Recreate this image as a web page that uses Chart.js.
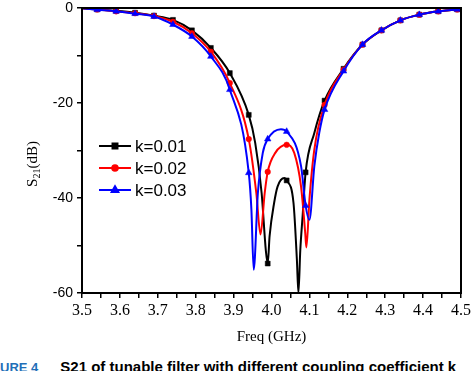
<!DOCTYPE html>
<html>
<head>
<meta charset="utf-8">
<script src="https://cdn.jsdelivr.net/npm/chart.js@4/dist/chart.umd.min.js"></script>
<style>
  html, body { margin: 0; padding: 0; background: #fff; }
  body { width: 474px; height: 371px; overflow: hidden; position: relative; }
  #wrap { position: absolute; left: 0; top: 0; width: 474px; height: 350px; }
  #caption {
    position: absolute; left: 0; top: 359px; white-space: nowrap;
    font: bold 15px "Liberation Sans", Arial, sans-serif; line-height: 15px; color: #000;
  }
  #caption .fig { color: #1f6fb8; font-size: 13px; margin-right: 22px; }
</style>
</head>
<body>
<div id="wrap"><canvas id="chart"></canvas></div>
<div id="caption"><span class="fig">URE 4</span>S21 of tunable filter with different coupling coefficient k</div>
<script>
// Values: frequency in GHz, S21 in dB

const seriesNames = ['k=0.01', 'k=0.02', 'k=0.03'];

const freqK1 = [3.50, 3.54, 3.59, 3.64, 3.69, 3.74, 3.79, 3.84, 3.89, 3.94, 3.957, 3.974, 3.985, 3.99, 3.995,
  4.007, 4.016, 4.034, 4.04, 4.058, 4.067, 4.071, 4.076, 4.082, 4.09, 4.113, 4.14, 4.19, 4.24, 4.29, 4.34,
  4.39, 4.44, 4.49, 4.50];
const s21K1 = [-0.05, -0.3, -0.6, -1.0, -1.6, -2.5, -4.7, -8.4, -13.7, -22.5, -28.4, -39, -51, -53.8, -48,
  -41, -37.6, -35.8, -36.3, -41, -53, -60, -50.9, -43.9, -34.6, -26.3, -19.5, -12.8, -7.7, -4.7, -2.6,
  -1.4, -0.7, -0.3, -0.25];

const freqK2 = [3.50, 3.54, 3.59, 3.64, 3.69, 3.74, 3.79, 3.84, 3.89, 3.94, 3.96, 3.971, 3.982, 3.99,
  4.01, 4.04, 4.06, 4.078, 4.089, 4.092, 4.10, 4.113, 4.14, 4.19, 4.24, 4.29, 4.34, 4.39, 4.44, 4.49, 4.50];
const s21K2 = [-0.05, -0.3, -0.7, -1.1, -1.7, -2.9, -5.3, -9.2, -15.8, -27.6, -39, -47.7, -39, -34.5,
  -30.5, -28.8, -30.5, -37.6, -47.4, -50.4, -40.4, -29.8, -20.4, -13, -7.7, -4.7, -2.6, -1.4, -0.7, -0.3, -0.25];

const freqK3 = [3.50, 3.54, 3.59, 3.64, 3.69, 3.74, 3.79, 3.84, 3.89, 3.94, 3.947, 3.953, 3.964, 3.977,
  3.99, 4.025, 4.04, 4.078, 4.09, 4.10, 4.113, 4.126, 4.14, 4.19, 4.24, 4.29, 4.34, 4.39, 4.44, 4.49, 4.50];
const s21K3 = [-0.05, -0.35, -0.7, -1.2, -1.8, -3.5, -6.0, -10.2, -17.2, -34.7, -42.5, -55.1, -39, -30.5,
  -27.6, -25.5, -26.0, -33.3, -41.6, -44.6, -33.3, -26.3, -21.4, -13.3, -7.7, -4.7, -2.6, -1.4, -0.7, -0.3, -0.25];

// frequencies that carry a symbol
const markerFreqs = [3.54, 3.59, 3.64, 3.69, 3.74, 3.79, 3.84, 3.89, 3.94, 3.99, 4.04, 4.09, 4.14,
  4.19, 4.24, 4.29, 4.34, 4.39, 4.44, 4.49];

const xMajorTicks = [3.5, 3.6, 3.7, 3.8, 3.9, 4.0, 4.1, 4.2, 4.3, 4.4, 4.5];
const xMinorTicks = [3.55, 3.65, 3.75, 3.85, 3.95, 4.05, 4.15, 4.25, 4.35, 4.45];
const yMajorTicks = [0, -20, -40, -60];
const yMinorTicks = [-10, -30, -50];

const colors = ['#000000', '#ff0000', '#0000ff'];
const styles = ['rect', 'circle', 'triangle'];
const radii = [3.5, 2.8, 3.8];

function toPoints(fs, vs) {
  return fs.map((f, i) => ({ x: f, y: vs[i] }));
}
function isMarker(x) {
  return markerFreqs.some(m => Math.abs(m - x) < 1e-6);
}

const allSeries = [[freqK1, s21K1], [freqK2, s21K2], [freqK3, s21K3]];
const datasets = allSeries.map((s, i) => ({
  label: seriesNames[i],
  data: toPoints(s[0], s[1]),
  borderColor: colors[i],
  backgroundColor: colors[i],
  borderWidth: 2,
  cubicInterpolationMode: 'monotone',
  pointStyle: styles[i],
  pointRadius: ctx => (ctx.raw && isMarker(ctx.raw.x)) ? radii[i] : 0,
  pointBorderWidth: 0.5,
  order: 3 - i // blue on top
}));

// outline box + custom legend + y title with subscript
const decorations = {
  id: 'decorations',
  afterDatasetsDraw(chart) {
    const { ctx, chartArea: a } = chart;
    ctx.save();
    ctx.strokeStyle = '#000';
    ctx.lineWidth = 2;
    ctx.strokeRect(a.left, a.top, a.right - a.left, a.bottom - a.top);
    ctx.restore();
  },
  afterDraw(chart) {
    const ctx = chart.ctx;
    ctx.save();
    // legend
    seriesNames.forEach((name, i) => {
      const y = 146 + i * 22;
      ctx.strokeStyle = colors[i];
      ctx.lineWidth = 2;
      ctx.beginPath();
      ctx.moveTo(99, y);
      ctx.lineTo(131, y);
      ctx.stroke();
      Chart.helpers.drawPoint(ctx, { pointStyle: styles[i], radius: radii[i], rotation: 0, borderWidth: 0.5 }, 115, y);
      ctx.fillStyle = colors[i];
      ctx.fill();
      ctx.fillStyle = '#000';
      ctx.font = '17px "Liberation Sans", Arial, sans-serif';
      ctx.textBaseline = 'middle';
      ctx.textAlign = 'left';
      ctx.fillText(name, 135, y + 1);
    });
    // y axis title S21(dB)
    ctx.translate(32, 164);
    ctx.rotate(-Math.PI / 2);
    ctx.fillStyle = '#000';
    ctx.textBaseline = 'alphabetic';
    const big = '15px "Liberation Serif", "Times New Roman", serif';
    const small = '10px "Liberation Serif", "Times New Roman", serif';
    ctx.font = big;
    const wS = ctx.measureText('S').width;
    const wD = ctx.measureText('(dB)').width;
    ctx.font = small;
    const w21 = ctx.measureText('21').width;
    let x = -(wS + w21 + wD) / 2;
    const base = 5;
    ctx.font = big;
    ctx.fillText('S', x, base);
    x += wS;
    ctx.font = small;
    ctx.fillText('21', x, base + 3);
    x += w21;
    ctx.font = big;
    ctx.fillText('(dB)', x, base);
    ctx.restore();
  }
};

new Chart(document.getElementById('chart'), {
  type: 'line',
  data: { datasets },
  options: {
    responsive: true,
    maintainAspectRatio: false,
    animation: false,
    layout: { padding: { top: 8, right: 12, left: 0, bottom: 0 } },
    plugins: { legend: { display: false }, tooltip: { enabled: false } },
    scales: {
      x: {
        type: 'linear',
        min: 3.5,
        max: 4.5,
        afterBuildTicks: scale => {
          scale.ticks = xMajorTicks.concat(xMinorTicks).sort((a, b) => a - b).map(v => ({ value: v }));
        },
        afterFit: scale => { scale.height = 57; },
        ticks: {
          color: '#000',
          padding: 3,
          maxRotation: 0,
          autoSkip: false,
          font: { family: '"Liberation Serif", "Times New Roman", serif', size: 16 },
          callback: v => xMajorTicks.some(m => Math.abs(m - v) < 1e-6) ? v.toFixed(1) : ''
        },
        grid: { drawOnChartArea: false, drawTicks: true, tickLength: 5, color: '#000', lineWidth: 1.5 },
        border: { display: true, color: '#000', width: 2 },
        title: {
          display: true,
          text: 'Freq (GHz)',
          color: '#000',
          font: { family: '"Liberation Serif", "Times New Roman", serif', size: 15 },
          padding: { top: 0, bottom: 4 }
        }
      },
      y: {
        min: -60,
        max: 0,
        afterBuildTicks: scale => {
          scale.ticks = yMajorTicks.concat(yMinorTicks).sort((a, b) => a - b).map(v => ({ value: v }));
        },
        afterFit: scale => {
          scale.width = 82;
          scale.paddingTop = 0;
          scale.paddingBottom = 0;
        },
        ticks: {
          color: '#000',
          padding: 4,
          autoSkip: false,
          font: { family: '"Liberation Sans", Arial, sans-serif', size: 14 },
          callback: v => yMajorTicks.includes(v) ? String(v) : ''
        },
        grid: { drawOnChartArea: false, drawTicks: true, tickLength: 5, color: '#000', lineWidth: 1.5 },
        border: { display: true, color: '#000', width: 2 }
      }
    }
  },
  plugins: [decorations]
});
</script>
</body>
</html>
